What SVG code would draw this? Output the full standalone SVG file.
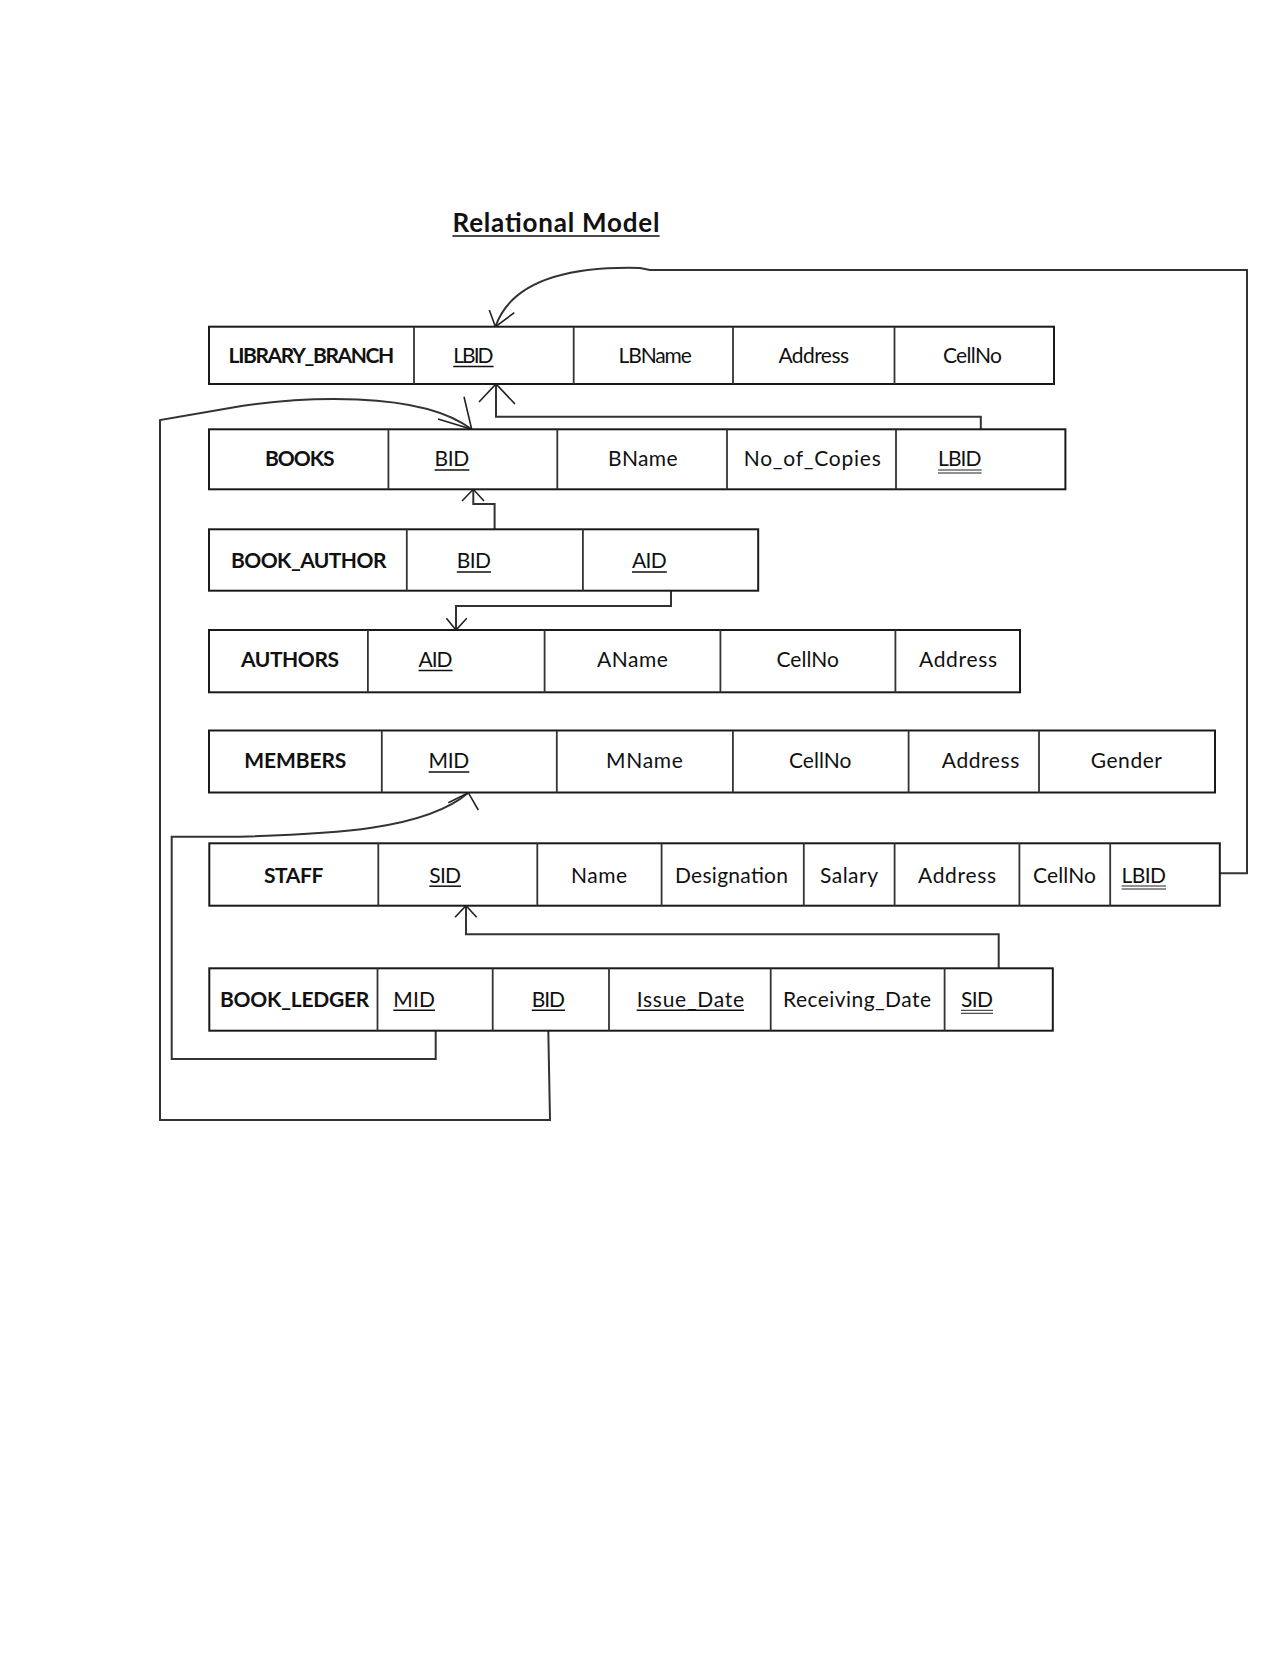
<svg xmlns="http://www.w3.org/2000/svg" width="1280" height="1656" viewBox="0 0 1280 1656">
<style>
.box{fill:#fff;stroke:#1a1a1a;stroke-width:2}
.dv{stroke:#333;stroke-width:1.8}
.t{font-family:Lato,"Liberation Sans",sans-serif;font-size:21px;fill:#111}
.b{font-weight:bold}
.ttl{font-family:Lato,"Liberation Sans",sans-serif;font-size:26px;font-weight:bold;fill:#111}
.u{stroke:#111;stroke-width:1.5}
.u2{stroke:#222;stroke-width:1}
.c{fill:none;stroke:#333;stroke-width:2}
.ah{fill:none;stroke:#222;stroke-width:1.6}
</style>
<rect x="0" y="0" width="1280" height="1656" fill="#fff"/>

<g id="title">
<text class="ttl" x="452.5" y="232.3" textLength="207">Relational Model</text>
<line class="u" x1="452.5" y1="236" x2="659.6" y2="236" stroke-width="2"/>
</g>

<g id="connectors">
<path class="c" d="M1219.8 873.3 H1247 V270 H650 L640 268 C560 266 510 285 495.4 326.7"/>
<path class="ah" d="M489.3 310 L495.4 326.7 L514.3 312.7"/>
<path class="c" d="M980.8 429.3 V416.7 H496 V384"/>
<path class="ah" d="M479 402 L496 384 L515 404"/>
<path class="c" d="M548.3 1030.7 L550 1120 H160 V420 L230 408 C300 396 420 390 471.7 429.3"/>
<path class="ah" d="M464 396.7 L471.7 429.3 L438 419"/>
<path class="c" d="M494.6 529.3 V504 H473.3 V489.3"/>
<path class="ah" d="M462 501 L473.3 489.3 L484 501"/>
<path class="c" d="M671 590.7 V606 H456 V630"/>
<path class="ah" d="M446.4 618.3 L456 630 L466.8 618.3"/>
<path class="c" d="M435.7 1030.7 V1059 H171.7 V836.7 H240 C330 834 425 830 468.3 792.7"/>
<path class="ah" d="M448.3 802.7 L468.3 792.7 L478.3 810"/>
<path class="c" d="M998.7 968.3 V934.3 H466 V905.7"/>
<path class="ah" d="M455 917.3 L466 905.7 L476.7 917.3"/>
</g>

<g id="library_branch">
<rect class="box" x="209" y="326.7" width="845" height="57.3"/>
<line class="dv" x1="414" y1="326.7" x2="414" y2="384"/>
<line class="dv" x1="573.7" y1="326.7" x2="573.7" y2="384"/>
<line class="dv" x1="733" y1="326.7" x2="733" y2="384"/>
<line class="dv" x1="894.5" y1="326.7" x2="894.5" y2="384"/>
<text class="t b" x="228.6" y="363" textLength="165.7">LIBRARY_BRANCH</text>
<text class="t" x="453.2" y="363" textLength="40.4">LBID</text>
<line class="u" x1="453.2" y1="366.5" x2="493.6" y2="366.5"/>
<text class="t" x="618.6" y="363" textLength="73.2">LBName</text>
<text class="t" x="778.4" y="363" textLength="70.6">Address</text>
<text class="t" x="942.9" y="363" textLength="59.1">CellNo</text>
</g>

<g id="books">
<rect class="box" x="209" y="429.3" width="856.4" height="60"/>
<line class="dv" x1="388.4" y1="429.3" x2="388.4" y2="489.3"/>
<line class="dv" x1="557.3" y1="429.3" x2="557.3" y2="489.3"/>
<line class="dv" x1="727" y1="429.3" x2="727" y2="489.3"/>
<line class="dv" x1="896" y1="429.3" x2="896" y2="489.3"/>
<text class="t b" x="265" y="466" textLength="69.6">BOOKS</text>
<text class="t" x="434.6" y="466" textLength="34.7">BID</text>
<line class="u" x1="434.6" y1="470" x2="469.3" y2="470"/>
<text class="t" x="608" y="466" textLength="69.6">BName</text>
<text class="t" x="743.7" y="466" textLength="137.1">No_of_Copies</text>
<text class="t" x="938" y="466" textLength="43.6">LBID</text>
<line class="u2" x1="938" y1="470" x2="981.6" y2="470"/>
<line class="u2" x1="938" y1="473" x2="981.6" y2="473"/>
</g>

<g id="book_author">
<rect class="box" x="209" y="529.3" width="549.2" height="61.4"/>
<line class="dv" x1="406.8" y1="529.3" x2="406.8" y2="590.7"/>
<line class="dv" x1="582.9" y1="529.3" x2="582.9" y2="590.7"/>
<text class="t b" x="231" y="568.3" textLength="155.4">BOOK_AUTHOR</text>
<text class="t" x="456.8" y="568.3" textLength="34.2">BID</text>
<line class="u" x1="456.8" y1="572" x2="491" y2="572"/>
<text class="t" x="632" y="568.3" textLength="34.8">AID</text>
<line class="u" x1="632" y1="572" x2="666.8" y2="572"/>
</g>

<g id="authors">
<rect class="box" x="209" y="630" width="811" height="62.3"/>
<line class="dv" x1="367.9" y1="630" x2="367.9" y2="692.3"/>
<line class="dv" x1="544.6" y1="630" x2="544.6" y2="692.3"/>
<line class="dv" x1="720.4" y1="630" x2="720.4" y2="692.3"/>
<line class="dv" x1="895.4" y1="630" x2="895.4" y2="692.3"/>
<text class="t b" x="241" y="666.7" textLength="98">AUTHORS</text>
<text class="t" x="418.6" y="666.7" textLength="33.9">AID</text>
<line class="u" x1="418.6" y1="670.5" x2="452.5" y2="670.5"/>
<text class="t" x="597" y="666.7" textLength="70.9">AName</text>
<text class="t" x="776.4" y="666.7" textLength="62.6">CellNo</text>
<text class="t" x="919" y="666.7" textLength="78">Address</text>
</g>

<g id="members">
<rect class="box" x="209" y="730.5" width="1006" height="62"/>
<line class="dv" x1="381.8" y1="730.5" x2="381.8" y2="792.5"/>
<line class="dv" x1="556.8" y1="730.5" x2="556.8" y2="792.5"/>
<line class="dv" x1="732.9" y1="730.5" x2="732.9" y2="792.5"/>
<line class="dv" x1="908.6" y1="730.5" x2="908.6" y2="792.5"/>
<line class="dv" x1="1039" y1="730.5" x2="1039" y2="792.5"/>
<text class="t b" x="244.3" y="768.3" textLength="102">MEMBERS</text>
<text class="t" x="428.6" y="768.3" textLength="40.7">MID</text>
<line class="u" x1="428.6" y1="772" x2="469.3" y2="772"/>
<text class="t" x="606" y="768.3" textLength="76.9">MName</text>
<text class="t" x="789" y="768.3" textLength="62.4">CellNo</text>
<text class="t" x="941.8" y="768.3" textLength="77.5">Address</text>
<text class="t" x="1090.7" y="768.3" textLength="71.3">Gender</text>
</g>

<g id="staff">
<rect class="box" x="209.3" y="843.3" width="1010.5" height="62.4"/>
<line class="dv" x1="378.3" y1="843.3" x2="378.3" y2="905.7"/>
<line class="dv" x1="537.3" y1="843.3" x2="537.3" y2="905.7"/>
<line class="dv" x1="661.6" y1="843.3" x2="661.6" y2="905.7"/>
<line class="dv" x1="803.8" y1="843.3" x2="803.8" y2="905.7"/>
<line class="dv" x1="894.6" y1="843.3" x2="894.6" y2="905.7"/>
<line class="dv" x1="1019.4" y1="843.3" x2="1019.4" y2="905.7"/>
<line class="dv" x1="1110.2" y1="843.3" x2="1110.2" y2="905.7"/>
<text class="t b" x="264" y="882.5" textLength="59.3">STAFF</text>
<text class="t" x="429.3" y="882.5" textLength="31.7">SID</text>
<line class="u" x1="429.3" y1="886.2" x2="461" y2="886.2"/>
<text class="t" x="571" y="882.5" textLength="56">Name</text>
<text class="t" x="675" y="882.5" textLength="113">Designation</text>
<text class="t" x="820" y="882.5" textLength="58">Salary</text>
<text class="t" x="918" y="882.5" textLength="78">Address</text>
<text class="t" x="1033" y="882.5" textLength="63">CellNo</text>
<text class="t" x="1121.6" y="882.5" textLength="44.4">LBID</text>
<line class="u2" x1="1121.6" y1="886" x2="1166" y2="886"/>
<line class="u2" x1="1121.6" y1="889" x2="1166" y2="889"/>
</g>

<g id="book_ledger">
<rect class="box" x="209.3" y="968.3" width="843.5" height="62.4"/>
<line class="dv" x1="377.5" y1="968.3" x2="377.5" y2="1030.7"/>
<line class="dv" x1="492.7" y1="968.3" x2="492.7" y2="1030.7"/>
<line class="dv" x1="609" y1="968.3" x2="609" y2="1030.7"/>
<line class="dv" x1="770.7" y1="968.3" x2="770.7" y2="1030.7"/>
<line class="dv" x1="944.6" y1="968.3" x2="944.6" y2="1030.7"/>
<text class="t b" x="220" y="1006.7" textLength="149.3">BOOK_LEDGER</text>
<text class="t" x="393.3" y="1006.7" textLength="41.7">MID</text>
<line class="u" x1="393.3" y1="1010.3" x2="435" y2="1010.3"/>
<text class="t" x="531.7" y="1006.7" textLength="33.3">BID</text>
<line class="u" x1="531.7" y1="1010.3" x2="565" y2="1010.3"/>
<text class="t" x="636.7" y="1006.7" textLength="107.3">Issue_Date</text>
<line class="u" x1="636.7" y1="1010.3" x2="744" y2="1010.3"/>
<text class="t" x="783" y="1006.7" textLength="148">Receiving_Date</text>
<text class="t" x="961" y="1006.7" textLength="32">SID</text>
<line class="u2" x1="961" y1="1010.3" x2="993" y2="1010.3"/>
<line class="u2" x1="961" y1="1013.3" x2="993" y2="1013.3"/>
</g>
</svg>
